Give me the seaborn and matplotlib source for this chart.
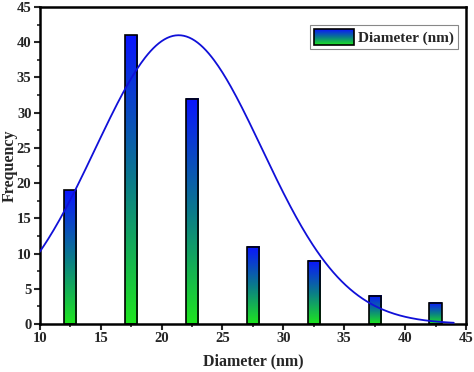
import numpy as np
import pandas as pd
import matplotlib
matplotlib.use("Agg")
import matplotlib.pyplot as plt
import seaborn as sns
from matplotlib.colors import LinearSegmentedColormap
from matplotlib.patches import Rectangle
from matplotlib.legend_handler import HandlerBase
from matplotlib.image import BboxImage
from matplotlib.transforms import Bbox, TransformedBbox
from matplotlib.ticker import MultipleLocator

# histogram bins (centres) and counts
diameter = [12.5, 17.5, 22.5, 27.5, 32.5, 37.5, 42.5]
frequency = [19, 41, 32, 11, 9, 4, 3]

# gaussian fit
fit_amp = 41.0
fit_mu = 21.4
fit_sigma = 6.85
fit_range = (10.0, 44.0)

sns.set_style("white")
plt.rcParams["font.family"] = ["Liberation Serif", "DejaVu Serif"]
plt.rcParams["font.weight"] = "bold"

grad_cmap = LinearSegmentedColormap.from_list("bg", ["#1ee61e", "#0a7a8c", "#0a14ff"])
grad = np.linspace(0, 1, 256).reshape(-1, 1)


class GradientHandler(HandlerBase):
    def create_artists(self, legend, orig_handle, xdescent, ydescent,
                       width, height, fontsize, trans):
        bb = TransformedBbox(Bbox.from_bounds(-xdescent, -ydescent, width, height), trans)
        img = BboxImage(bb, cmap=grad_cmap, interpolation="bilinear", origin="lower")
        img.set_data(grad)
        edge = Rectangle((-xdescent, -ydescent), width, height, fill=False,
                         edgecolor="black", lw=1.2, transform=trans)
        return [img, edge]


df = pd.DataFrame({"Diameter": diameter, "Frequency": frequency})

fig = plt.figure(figsize=(4.74, 3.72), dpi=100)
ax = fig.add_axes([0.084, 0.129, 0.899, 0.852])

sns.barplot(data=df, x="Diameter", y="Frequency", native_scale=True,
            width=0.2, color="white", edgecolor="black", linewidth=1.2, ax=ax)

# fill each bar with a blue->green vertical gradient
for bar in ax.patches:
    x0, y0 = bar.get_x(), bar.get_y()
    w, h = bar.get_width(), bar.get_height()
    ax.imshow(grad, cmap=grad_cmap, origin="lower", aspect="auto",
              extent=[x0, x0 + w, y0, y0 + h], interpolation="bilinear", zorder=1.5)
    bar.set_facecolor("none")
    bar.set_zorder(2)

xs = np.linspace(fit_range[0], fit_range[1], 300)
ys = fit_amp * np.exp(-(xs - fit_mu) ** 2 / (2 * fit_sigma ** 2))
sns.lineplot(x=xs, y=ys, color="#1010d8", lw=1.3, ax=ax, zorder=3)

ax.set_xlim(10, 45)
ax.set_ylim(0, 45)
ax.xaxis.set_major_locator(MultipleLocator(5))
ax.xaxis.set_minor_locator(MultipleLocator(2.5))
ax.yaxis.set_major_locator(MultipleLocator(5))
ax.yaxis.set_minor_locator(MultipleLocator(2.5))
ax.tick_params(which="major", direction="out", length=4, width=1.5,
               labelsize=10.5, bottom=True, left=True, pad=2)
ax.tick_params(which="minor", direction="out", length=2.5, width=1.2,
               bottom=True, left=True)
for s in ax.spines.values():
    s.set_linewidth(1.8)
    s.set_color("black")

ax.set_xlabel("Diameter (nm)", fontsize=11.5, fontweight="bold", labelpad=6)
ax.set_ylabel("Frequency", fontsize=11.5, fontweight="bold", va="center")
ax.yaxis.set_label_coords(-0.071, 0.5)

proxy = Rectangle((0, 0), 1, 1)
leg = ax.legend([proxy], ["Diameter (nm)"], handler_map={Rectangle: GradientHandler()},
                loc="upper right", bbox_to_anchor=(0.981, 0.943), borderaxespad=0,
                fancybox=False, framealpha=1, edgecolor="#888888",
                handlelength=2.6, handleheight=1.2, borderpad=0.25, handletextpad=0.3,
                prop={"size": 11, "weight": "bold"})
leg.get_frame().set_linewidth(0.8)

fig.savefig("out.png", dpi=100)
